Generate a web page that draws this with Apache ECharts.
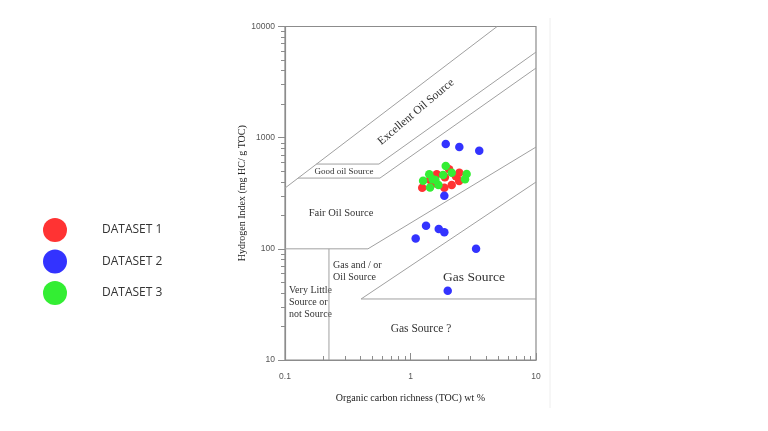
<!DOCTYPE html>
<html>
	<head>
		<meta charset="utf-8">
		<title></title>
		<script src="https://cdn.jsdelivr.net/npm/echarts@6/dist/echarts.min.js"></script>
	</head>
	<body style="margin:0;background:#fff;">
		<div id="main" style="width: 768px; height: 431px;"></div>
		<script type="text/javascript">
			// TOC (wt %) , HI (mg HC/g TOC)
			var dataset1 = [[1.24, 354], [1.62, 468], [1.88, 440], [2.03, 519], [2.45, 483], [2.44, 407],
				[2.13, 375], [1.86, 354], [1.54, 388], [1.43, 416], [2.3, 450]];
			var dataset2 = [[1.91, 875], [2.45, 823], [3.53, 763], [1.86, 300], [1.33, 161], [1.68, 151],
				[1.86, 141], [1.10, 124], [3.33, 100], [1.98, 42]];
			var dataset3 = [[1.26, 410], [1.41, 468], [1.50, 422], [1.43, 357], [1.67, 375], [1.82, 461],
				[1.91, 555], [2.13, 483], [2.80, 471], [2.72, 422], [1.58, 416]];
			var seriesNames = ['DATASET 1', 'DATASET 2', 'DATASET 3'];

			// boundaries of the source-rock fields
			var excellentUpper = [[0.1, 352], [4.9, 10000]];
			var goodUpper = [[0.178, 579], [0.561, 579], [10, 5890]];
			var goodLower = [[0.127, 433], [0.571, 433], [10, 4230]];
			var fairLower = [[0.1, 100], [0.458, 100], [10, 823]];
			var gasUpper = [[10, 399], [0.404, 35.4], [10, 35.4]];
			var veryLittle = [[0.224, 10], [0.224, 100]];

			var xMajor = [0.1, 1, 10];
			var xMinor = [0.2, 0.3, 0.4, 0.5, 0.6, 0.7, 0.8, 0.9, 2, 3, 4, 5, 6, 7, 8, 9];
			var yMajor = [10, 100, 1000, 10000];
			var yMinor = [20, 30, 40, 50, 60, 70, 80, 90, 200, 300, 400, 500, 600, 700, 800, 900,
				2000, 3000, 4000, 5000, 6000, 7000, 8000, 9000];

			var myChart = echarts.init(document.getElementById("main"));
			var serif = 'Liberation Serif';
			var lineColor = '#a0a0a0';

			function boundary(points) {
				return {
					type: 'line',
					data: points,
					symbol: 'none',
					silent: true,
					lineStyle: { color: lineColor, width: 1 },
					z: 1
				};
			}

			function label(text, x, y, size, rot) {
				return {
					type: 'text',
					x: x, y: y,
					rotation: rot || 0,
					style: {
						text: text,
						font: size + 'px "' + serif + '"',
						fill: '#333',
						align: 'center',
						verticalAlign: 'middle'
					}
				};
			}

			var tickLabel = { color: '#555', fontSize: 8.5, fontFamily: 'Liberation Sans', formatter: function (v) { return String(v); } };

			option = {
				animation: false,
				color: ['#ff3333', '#3333ff', '#33ee33'],
				grid: {
					left: 285, right: 232, top: 26.5, bottom: 71,
					show: true, borderColor: '#8c8c8c', borderWidth: 1.2
				},
				legend: {
					data: seriesNames,
					orient: 'vertical',
					left: 38,
					top: 213,
					icon: 'circle',
					itemWidth: 24,
					itemHeight: 24,
					itemGap: 7.5,
					textStyle: { fontSize: 12, color: '#333', fontFamily: 'Open Sans', padding: [0, 0, 0, 30] }
				},
				xAxis: [
					{
						type: 'log', logBase: 10, min: 0.1, max: 10,
						name: 'Organic carbon richness (TOC) wt %',
						nameLocation: 'middle', nameGap: 33,
						nameTextStyle: { fontFamily: serif, fontSize: 10, color: '#222' },
						axisLine: { lineStyle: { color: '#8c8c8c', width: 1.2 } },
						axisTick: { inside: true, length: 7, customValues: xMajor, lineStyle: { color: '#8c8c8c' } },
						axisLabel: Object.assign({ margin: 12, customValues: xMajor }, tickLabel),
						splitLine: { show: false }
					},
					{
						type: 'log', logBase: 10, min: 0.1, max: 10, position: 'bottom',
						axisLine: { show: false },
						axisTick: { inside: true, length: 4, customValues: xMinor, lineStyle: { color: '#8c8c8c' } },
						axisLabel: { show: false },
						splitLine: { show: false }
					}
				],
				yAxis: [
					{
						type: 'log', logBase: 10, min: 10, max: 10000,
						name: 'Hydrogen Index (mg HC/ g TOC)',
						nameLocation: 'middle', nameGap: 37,
						nameTextStyle: { fontFamily: serif, fontSize: 10, color: '#222' },
						axisLine: { lineStyle: { color: '#8c8c8c', width: 1.2 } },
						axisTick: { length: 7, customValues: yMajor, lineStyle: { color: '#8c8c8c' } },
						axisLabel: Object.assign({ margin: 10, customValues: yMajor }, tickLabel),
						splitLine: { show: false }
					},
					{
						type: 'log', logBase: 10, min: 10, max: 10000, position: 'left',
						axisLine: { show: false },
						axisTick: { length: 4, customValues: yMinor, lineStyle: { color: '#8c8c8c' } },
						axisLabel: { show: false },
						splitLine: { show: false }
					}
				],
				graphic: [
					label('Excellent Oil Source', 416, 112, 11.5, 0.7),
					label('Good oil Source', 344, 172, 9),
					label('Fair Oil Source', 341, 213, 10.5),
					{ type: 'text', x: 333, y: 259, style: { text: 'Gas and / or\nOil Source', font: '10px "' + serif + '"', fill: '#333', lineHeight: 12 } },
					{ type: 'text', x: 289, y: 284, style: { text: 'Very Little\nSource or\nnot Source', font: '10px "' + serif + '"', fill: '#333', lineHeight: 12 } },
					label('Gas Source', 474, 277, 13.5),
					label('Gas Source ?', 421, 329, 11.5),
					{ type: 'line', shape: { x1: 550, y1: 18, x2: 550, y2: 408 }, style: { stroke: '#eeeeee', lineWidth: 1 } }
				],
				series: [
					boundary(excellentUpper),
					boundary(goodUpper),
					boundary(goodLower),
					boundary(fairLower),
					boundary(gasUpper),
					boundary(veryLittle),
					{ name: seriesNames[0], type: 'scatter', data: dataset1, symbolSize: 8.5, itemStyle: { opacity: 1 }, z: 3 },
					{ name: seriesNames[1], type: 'scatter', data: dataset2, symbolSize: 8.5, itemStyle: { opacity: 1 }, z: 3 },
					{ name: seriesNames[2], type: 'scatter', data: dataset3, symbolSize: 8.5, itemStyle: { opacity: 1 }, z: 3 }
				]
			};
			myChart.setOption(option);
		</script>
	</body>
</html>
